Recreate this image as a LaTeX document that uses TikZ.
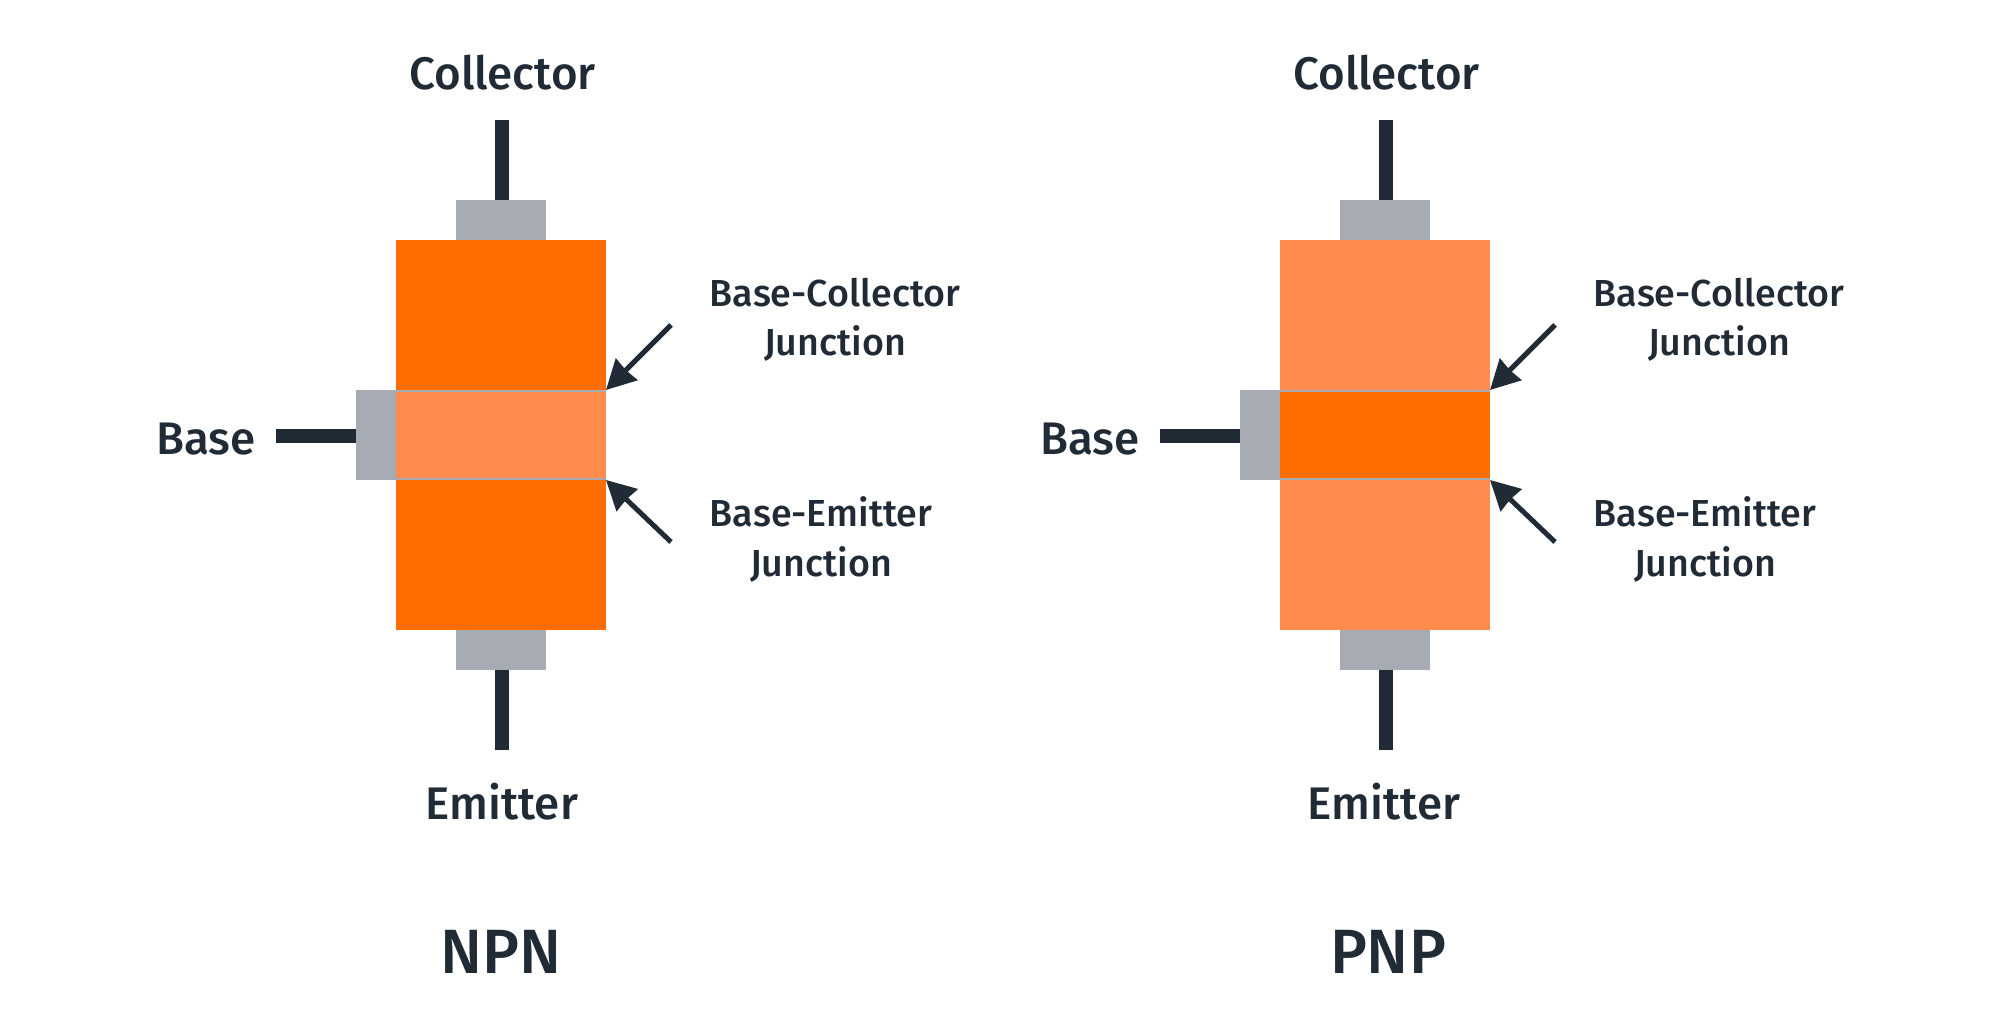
\documentclass[tikz,border=0pt]{standalone}
\usepackage{fontspec}
\setmainfont{Fira Sans Medium}
\usetikzlibrary{arrows.meta}
\definecolor{ink}{HTML}{202B35}
\definecolor{deep}{HTML}{FF6D00}
\definecolor{pale}{HTML}{FF8C4D}
\definecolor{metal}{HTML}{A6ABB4}
\tikzset{
    block/.style={rectangle, inner sep=0, outer sep=0, minimum width=2.1cm},
    contact/.style={rectangle, fill=metal, inner sep=0, outer sep=0},
    wire/.style={ink, line width=0.143cm},
    seam/.style={metal, line width=0.02cm},
    pointer/.style={ink, line width=0.05cm, -{Stealth[length=2.9mm, width=3mm, inset=0.1mm]}},
    lbl/.style={text=ink, anchor=base, inner sep=0, font=\fontsize{13pt}{16pt}\selectfont},
    smalllbl/.style={text=ink, anchor=base, inner sep=0, align=center, font=\fontsize{10.7pt}{14.2pt}\selectfont},
    title/.style={text=ink, anchor=base, inner sep=0, font=\fontsize{17.8pt}{22pt}\selectfont}
}
\begin{document}
\begin{tikzpicture}
    \useasboundingbox (0,0) rectangle (20,10.3);

    % NPN
    \node[block, fill=deep, minimum height=1.5cm] (nTop) at (5.01, 7.15){};
    \node[block, fill=pale, minimum height=0.9cm] (nMid) at (5.01, 5.95){};
    \node[block, fill=deep, minimum height=1.5cm] (nBot) at (5.01, 4.75){};
    \node[contact, minimum width=0.9cm, minimum height=0.4cm] (nCapTop) at (5.01, 8.1){};
    \node[contact, minimum width=0.9cm, minimum height=0.4cm] (nCapBot) at (5.01, 3.8){};
    \node[contact, minimum width=0.4cm, minimum height=0.9cm] (nCapBase) at (3.76, 5.95){};

    \draw[seam] ([yshift=-0.01cm]nMid.north west) -- ([yshift=-0.01cm]nMid.north east);
    \draw[seam] ([yshift=0.01cm]nMid.south west) -- ([yshift=0.01cm]nMid.south east);

    \coordinate (nWireTop) at (5.02, 9.1);
    \coordinate (nWireBot) at (5.02, 2.8);
    \coordinate (nWireBase) at (2.76, 5.94);
    \draw[wire] (nWireTop) -- (nWireTop |- nCapTop.north);
    \draw[wire] (nWireBot) -- (nWireBot |- nCapBot.south);
    \draw[wire] (nWireBase) -- (nWireBase -| nCapBase.west);

    \coordinate (nTailBC) at (6.71, 7.05);
    \coordinate (nTailBE) at (6.71, 4.88);
    \draw[pointer] (nTailBC) -- (nMid.north east);
    \draw[pointer] (nTailBE) -- (nMid.south east);

    \node[lbl] (nCollector) at (5.025, 9.40){Collector};
    \node[lbl] (nEmitter) at (5.02, 2.11){Emitter};
    \node[lbl] (nBase) at (2.06, 5.75){Base};
    \node[smalllbl] (nLabelBC) at (8.35, 6.74){Base-Collector\\Junction};
    \node[smalllbl] (nLabelBE) at (8.21, 4.54){Base-Emitter\\Junction};
    \node[title] (nTitle) at (5.01, 0.57){NPN};

    % PNP
    \node[block, fill=pale, minimum height=1.5cm] (pTop) at (13.85, 7.15){};
    \node[block, fill=deep, minimum height=0.9cm] (pMid) at (13.85, 5.95){};
    \node[block, fill=pale, minimum height=1.5cm] (pBot) at (13.85, 4.75){};
    \node[contact, minimum width=0.9cm, minimum height=0.4cm] (pCapTop) at (13.85, 8.1){};
    \node[contact, minimum width=0.9cm, minimum height=0.4cm] (pCapBot) at (13.85, 3.8){};
    \node[contact, minimum width=0.4cm, minimum height=0.9cm] (pCapBase) at (12.6, 5.95){};

    \draw[seam] ([yshift=-0.01cm]pMid.north west) -- ([yshift=-0.01cm]pMid.north east);
    \draw[seam] ([yshift=0.01cm]pMid.south west) -- ([yshift=0.01cm]pMid.south east);

    \coordinate (pWireTop) at (13.86, 9.1);
    \coordinate (pWireBot) at (13.86, 2.8);
    \coordinate (pWireBase) at (11.6, 5.94);
    \draw[wire] (pWireTop) -- (pWireTop |- pCapTop.north);
    \draw[wire] (pWireBot) -- (pWireBot |- pCapBot.south);
    \draw[wire] (pWireBase) -- (pWireBase -| pCapBase.west);

    \coordinate (pTailBC) at (15.55, 7.05);
    \coordinate (pTailBE) at (15.55, 4.88);
    \draw[pointer] (pTailBC) -- (pMid.north east);
    \draw[pointer] (pTailBE) -- (pMid.south east);

    \node[lbl] (pCollector) at (13.865, 9.40){Collector};
    \node[lbl] (pEmitter) at (13.84, 2.11){Emitter};
    \node[lbl] (pBase) at (10.9, 5.75){Base};
    \node[smalllbl] (pLabelBC) at (17.19, 6.74){Base-Collector\\Junction};
    \node[smalllbl] (pLabelBE) at (17.05, 4.54){Base-Emitter\\Junction};
    \node[title] (pTitle) at (13.88, 0.57){PNP};
\end{tikzpicture}
\end{document}
